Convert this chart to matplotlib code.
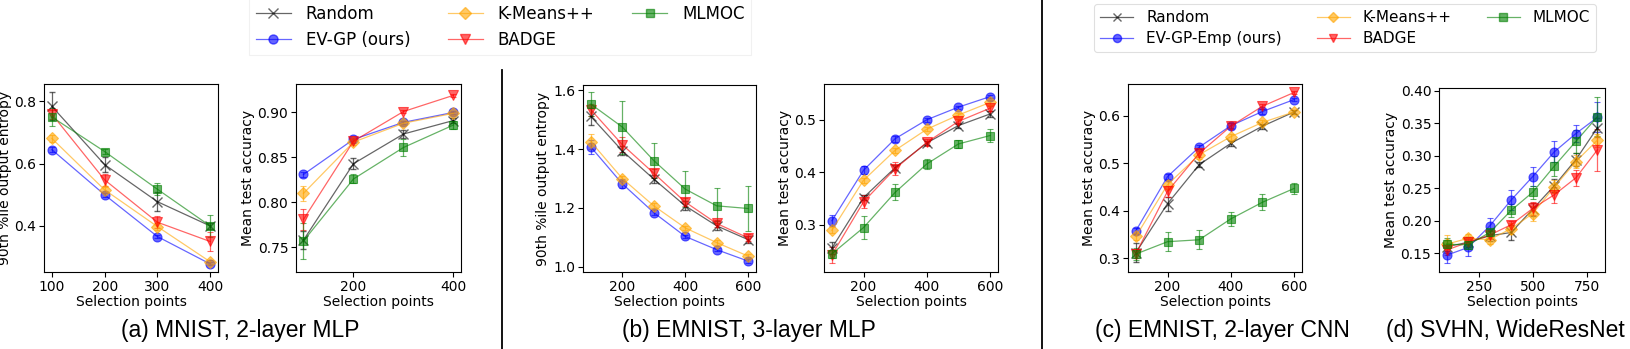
import matplotlib
matplotlib.use("Agg")
import matplotlib.pyplot as plt
from matplotlib.lines import Line2D

# ---------------- data ----------------
methods = ["Random", "EV-GP (ours)", "K-Means++", "BADGE", "MLMOC"]
methods_c = ["Random", "EV-GP-Emp (ours)", "K-Means++", "BADGE", "MLMOC"]

x_a = [100, 200, 300, 400]
x_b = [100, 200, 300, 400, 500, 600]
x_c = [100, 200, 300, 400, 500, 600]
x_d = [100, 200, 300, 400, 500, 600, 700, 800]

# (a) MNIST entropy
a1_random = [0.784, 0.597, 0.478, 0.400]
a1_evgp = [0.645, 0.500, 0.366, 0.278]
a1_kmeans = [0.681, 0.516, 0.398, 0.285]
a1_badge = [0.759, 0.548, 0.412, 0.350]
a1_mlmoc = [0.750, 0.639, 0.518, 0.400]
a1_random_err = [0.045, 0.025, 0.030, 0.010]
a1_evgp_err = [0.008, 0.006, 0.006, 0.005]
a1_kmeans_err = [0.010, 0.008, 0.010, 0.006]
a1_badge_err = [0.015, 0.020, 0.020, 0.030]
a1_mlmoc_err = [0.030, 0.008, 0.020, 0.035]

# (a) MNIST accuracy
a2_random = [0.758, 0.843, 0.876, 0.891]
a2_evgp = [0.831, 0.870, 0.889, 0.900]
a2_kmeans = [0.810, 0.867, 0.888, 0.899]
a2_badge = [0.781, 0.868, 0.901, 0.919]
a2_mlmoc = [0.757, 0.826, 0.861, 0.886]
a2_random_err = [0.010, 0.006, 0.004, 0.003]
a2_evgp_err = [0.003, 0.002, 0.002, 0.002]
a2_kmeans_err = [0.008, 0.003, 0.002, 0.002]
a2_badge_err = [0.012, 0.002, 0.002, 0.002]
a2_mlmoc_err = [0.020, 0.005, 0.009, 0.004]

# (b) EMNIST 3-layer entropy
b1_random = [1.511, 1.394, 1.298, 1.207, 1.139, 1.092]
b1_evgp = [1.407, 1.282, 1.184, 1.103, 1.058, 1.019]
b1_kmeans = [1.425, 1.300, 1.207, 1.132, 1.082, 1.036]
b1_badge = [1.534, 1.415, 1.318, 1.220, 1.147, 1.098]
b1_mlmoc = [1.553, 1.475, 1.361, 1.264, 1.207, 1.198]
b1_random_err = [0.030, 0.015, 0.015, 0.015, 0.015, 0.012]
b1_evgp_err = [0.025, 0.015, 0.008, 0.006, 0.006, 0.006]
b1_kmeans_err = [0.025, 0.010, 0.008, 0.008, 0.008, 0.008]
b1_badge_err = [0.020, 0.025, 0.015, 0.012, 0.012, 0.012]
b1_mlmoc_err = [0.040, 0.090, 0.060, 0.060, 0.060, 0.075]

# (b) EMNIST 3-layer accuracy
b2_random = [0.256, 0.352, 0.409, 0.456, 0.489, 0.511]
b2_evgp = [0.308, 0.404, 0.464, 0.500, 0.524, 0.544]
b2_kmeans = [0.290, 0.385, 0.442, 0.482, 0.509, 0.533]
b2_badge = [0.243, 0.344, 0.407, 0.457, 0.497, 0.522]
b2_mlmoc = [0.245, 0.295, 0.362, 0.416, 0.454, 0.470]
b2_random_err = [0.012, 0.005, 0.005, 0.004, 0.005, 0.005]
b2_evgp_err = [0.010, 0.008, 0.006, 0.004, 0.003, 0.003]
b2_kmeans_err = [0.006, 0.005, 0.005, 0.004, 0.004, 0.004]
b2_badge_err = [0.015, 0.012, 0.012, 0.006, 0.005, 0.005]
b2_mlmoc_err = [0.008, 0.022, 0.015, 0.010, 0.008, 0.012]

# (c) EMNIST 2-layer CNN accuracy
c_random = [0.312, 0.415, 0.497, 0.542, 0.578, 0.608]
c_evgp = [0.358, 0.472, 0.534, 0.579, 0.609, 0.634]
c_kmeans = [0.346, 0.455, 0.518, 0.556, 0.586, 0.608]
c_badge = [0.310, 0.441, 0.521, 0.578, 0.620, 0.649]
c_mlmoc = [0.309, 0.335, 0.339, 0.383, 0.418, 0.447]
c_random_err = [0.020, 0.015, 0.005, 0.005, 0.005, 0.004]
c_evgp_err = [0.006, 0.005, 0.005, 0.005, 0.005, 0.004]
c_kmeans_err = [0.008, 0.010, 0.010, 0.006, 0.005, 0.004]
c_badge_err = [0.010, 0.012, 0.008, 0.006, 0.005, 0.004]
c_mlmoc_err = [0.012, 0.020, 0.020, 0.014, 0.017, 0.012]

# (d) SVHN WideResNet accuracy
d_random = [0.160, 0.167, 0.177, 0.182, 0.218, 0.254, 0.294, 0.343]
d_evgp = [0.147, 0.159, 0.192, 0.232, 0.268, 0.306, 0.334, 0.359]
d_kmeans = [0.164, 0.173, 0.171, 0.188, 0.211, 0.252, 0.291, 0.324]
d_badge = [0.155, 0.167, 0.178, 0.194, 0.219, 0.240, 0.266, 0.309]
d_mlmoc = [0.164, 0.163, 0.182, 0.216, 0.244, 0.284, 0.322, 0.360]
d_random_err = [0.010, 0.008, 0.008, 0.012, 0.010, 0.010, 0.010, 0.015]
d_evgp_err = [0.012, 0.013, 0.012, 0.016, 0.014, 0.016, 0.013, 0.023]
d_kmeans_err = [0.014, 0.006, 0.006, 0.008, 0.012, 0.010, 0.010, 0.010]
d_badge_err = [0.008, 0.006, 0.006, 0.006, 0.010, 0.012, 0.012, 0.032]
d_mlmoc_err = [0.010, 0.006, 0.006, 0.010, 0.010, 0.015, 0.018, 0.030]

captions = ["(a) MNIST, 2-layer MLP", "(b) EMNIST, 3-layer MLP",
            "(c) EMNIST, 2-layer CNN", "(d) SVHN, WideResNet"]

# ---------------- style ----------------
colors = ["black", "blue", "orange", "red", "green"]
markers = ["x", "o", "D", "v", "s"]
msizes = [7, 6.5, 6, 7, 6]
ALPHA = 0.6

W, H = 1631, 349
fig = plt.figure(figsize=(W / 100, H / 100), dpi=100)
plt.rcParams["font.family"] = ["DejaVu Sans"]


def ax_at(l, r, t, b):
    return fig.add_axes([l / W, 1 - b / H, (r - l) / W, (b - t) / H])


def draw(ax, x, series, errs, ylabel):
    for i, (y, e) in enumerate(zip(series, errs)):
        ax.errorbar(x, y, yerr=e, color=colors[i], marker=markers[i],
                    markersize=msizes[i], lw=0.9, alpha=ALPHA, capsize=2.2,
                    elinewidth=0.9, capthick=0.9,
                    markeredgewidth=1.0 if markers[i] == "x" else 0.8)
    ax.set_xlabel("Selection points", fontsize=10, labelpad=1)
    ax.set_ylabel(ylabel, fontsize=10, labelpad=2)
    ax.tick_params(labelsize=10, length=3.5, pad=2)


ent = "90th %ile output entropy"
acc = "Mean test accuracy"

ax = ax_at(44, 218, 84, 272)
draw(ax, x_a, [a1_random, a1_evgp, a1_kmeans, a1_badge, a1_mlmoc],
     [a1_random_err, a1_evgp_err, a1_kmeans_err, a1_badge_err, a1_mlmoc_err], ent)
ax.set_xticks([100, 200, 300, 400])
ax.set_yticks([0.4, 0.6, 0.8])
ax.set_ylim(0.252, 0.856)

ax = ax_at(296, 461, 84, 272)
draw(ax, x_a, [a2_random, a2_evgp, a2_kmeans, a2_badge, a2_mlmoc],
     [a2_random_err, a2_evgp_err, a2_kmeans_err, a2_badge_err, a2_mlmoc_err], acc)
ax.set_xticks([200, 400])
ax.set_yticks([0.75, 0.80, 0.85, 0.90])
ax.set_ylim(0.7225, 0.9316)

ax = ax_at(583, 756, 85, 272)
draw(ax, x_b, [b1_random, b1_evgp, b1_kmeans, b1_badge, b1_mlmoc],
     [b1_random_err, b1_evgp_err, b1_kmeans_err, b1_badge_err, b1_mlmoc_err], ent)
ax.set_xticks([200, 400, 600])
ax.set_yticks([1.0, 1.2, 1.4, 1.6])
ax.set_ylim(0.982, 1.618)

ax = ax_at(824, 998, 84, 272)
draw(ax, x_b, [b2_random, b2_evgp, b2_kmeans, b2_badge, b2_mlmoc],
     [b2_random_err, b2_evgp_err, b2_kmeans_err, b2_badge_err, b2_mlmoc_err], acc)
ax.set_xticks([200, 400, 600])
ax.set_yticks([0.3, 0.4, 0.5])
ax.set_ylim(0.2105, 0.568)

ax = ax_at(1128, 1302, 84, 272)
draw(ax, x_c, [c_random, c_evgp, c_kmeans, c_badge, c_mlmoc],
     [c_random_err, c_evgp_err, c_kmeans_err, c_badge_err, c_mlmoc_err], acc)
ax.set_xticks([200, 400, 600])
ax.set_yticks([0.3, 0.4, 0.5, 0.6])
ax.set_ylim(0.2712, 0.6668)

ax = ax_at(1439, 1605, 88, 272)
draw(ax, x_d, [d_random, d_evgp, d_kmeans, d_badge, d_mlmoc],
     [d_random_err, d_evgp_err, d_kmeans_err, d_badge_err, d_mlmoc_err], acc)
ax.set_xticks([250, 500, 750])
ax.set_yticks([0.15, 0.20, 0.25, 0.30, 0.35, 0.40])
ax.set_ylim(0.1213, 0.404)

# ---------------- legends ----------------
def handles(ms_scale):
    return [Line2D([], [], color=colors[i], marker=markers[i],
                   markersize=msizes[i] * ms_scale, lw=0.9, alpha=ALPHA)
            for i in range(5)]

leg1 = fig.legend(handles(1.0), methods, ncol=3, loc="upper left",
                  bbox_to_anchor=(249 / W, 1 + 1.5 / H), fontsize=12,
                  frameon=True, fancybox=False, handlelength=2.1,
                  handletextpad=0.9, columnspacing=2.25, labelspacing=0.45,
                  borderpad=0.4, borderaxespad=0)
leg1.get_frame().set_edgecolor("#eeeeee")
leg1.get_frame().set_linewidth(0.8)

leg2 = fig.legend(handles(0.9), methods_c, ncol=3, loc="upper left",
                  bbox_to_anchor=(1094 / W, 1 - 4 / H), fontsize=11,
                  frameon=True, fancybox=True, handlelength=2.16,
                  handletextpad=0.85, columnspacing=2.3, labelspacing=0.4,
                  borderpad=0.4, borderaxespad=0)
leg2.get_frame().set_edgecolor("#d8d8d8")
leg2.get_frame().set_linewidth(0.8)

# ---------------- separators ----------------
fig.add_artist(Line2D([502 / W, 502 / W], [0, 1 - 70 / H], color="black", lw=1.3,
                      transform=fig.transFigure))
fig.add_artist(Line2D([1042 / W, 1042 / W], [0, 1], color="black", lw=1.3,
                      transform=fig.transFigure))

# ---------------- captions ----------------
cap_x = [240, 749, 1222, 1505]
for cx, txt in zip(cap_x, captions):
    fig.text(cx / W, 1 - 331 / H, txt, ha="center", va="center", fontsize=16.5,
             family=["Liberation Sans", "DejaVu Sans"])

fig.savefig("out.png", dpi=100)
